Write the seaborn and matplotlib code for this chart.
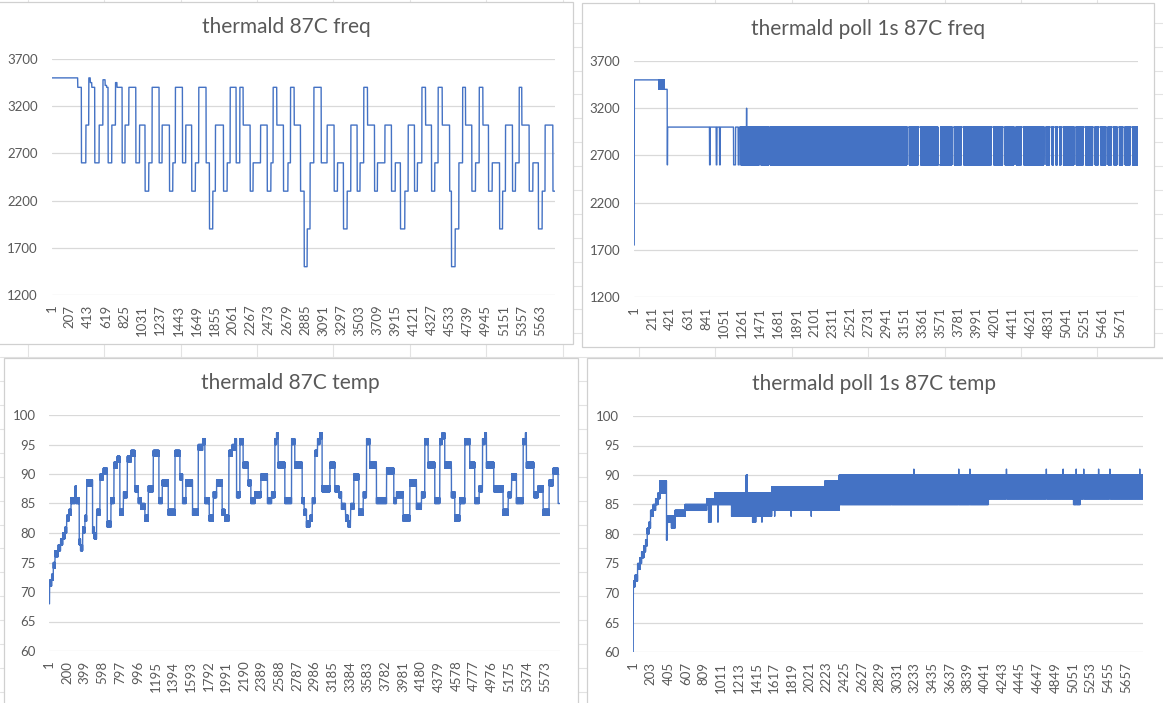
import numpy as np
import matplotlib
matplotlib.use("Agg")
import matplotlib.pyplot as plt
import seaborn as sns
from matplotlib.patches import Rectangle
from matplotlib.lines import Line2D

# ----------------------------------------------------------------
# Data (run-length encoded: start sample, low, high;
# when low != high the trace flips between the two every sample)
# ----------------------------------------------------------------
freq_n = 5731
freq_start = [0, 295, 337, 388, 421, 438, 455, 489, 539, 582, 607, 624, 641, 683, 725, 742,
              801, 834, 877, 957, 999, 1062, 1104, 1142, 1222, 1256, 1340, 1378, 1407, 1488,
              1525, 1593, 1635, 1673, 1757, 1795, 1833, 1863, 1955, 1997, 2031, 2099, 2141,
              2179, 2259, 2292, 2377, 2453, 2495, 2520, 2562, 2638, 2689, 2718, 2760, 2832,
              2874, 2908, 2941, 2984, 3068, 3135, 3215, 3253, 3321, 3363, 3405, 3477, 3510,
              3552, 3595, 3675, 3708, 3793, 3868, 3911, 3970, 4020, 4058, 4130, 4163, 4214,
              4256, 4324, 4361, 4399, 4446, 4530, 4551, 4593, 4635, 4678, 4711, 4783, 4825,
              4867, 4909, 4973, 5015, 5099, 5133, 5166, 5246, 5280, 5322, 5352, 5436, 5478,
              5541, 5584, 5617, 5706]
freq_level = [3500, 3400, 2600, 3000, 3500, 3450, 3400, 2600, 3000, 3480, 3420, 3400, 2600, 3000, 3450, 3400,
              2600, 3000, 3400, 2600, 3000, 2300, 2600, 3400, 2600, 3000, 2300, 2600, 3400, 2600,
              3000, 2300, 2600, 3400, 2600, 1900, 2300, 3000, 2300, 2600, 3400, 2600, 3400,
              3000, 2300, 2600, 3000, 2300, 2600, 3400, 3000, 2300, 2600, 3400, 3000, 2300,
              1500, 1900, 2600, 3400, 2600, 3000, 2300, 2600, 1900, 2300, 3000, 2300, 2600,
              3400, 3000, 2300, 2600, 3000, 2300, 2600, 1900, 2300, 3000, 2300, 2600, 3400,
              3000, 2300, 2600, 3400, 3000, 2300, 1500, 1900, 2600, 3400, 3000, 2300, 2600,
              3400, 3000, 2300, 2600, 1900, 2300, 3000, 2300, 2600, 3400, 3000, 2300, 2600,
              1900, 2300, 3000, 2300]

poll_freq_n = 5867
poll_freq_start = [0, 1, 291, 350, 385, 389, 878, 886, 956, 964, 995, 1003, 1158, 1181, 1212,
                   1224, 1244, 1310, 1311, 1368, 1380, 1457, 1477, 1570, 1589]
poll_freq_lo = [1750, 3500, 3400, 3400, 2600, 3000, 2600, 3000, 2600, 3000, 2600, 3000, 2600, 3000, 2600,
                3000, 2600, 3200, 2600, 3000, 2600, 3000, 2600, 3000, 2600]
poll_freq_hi = [1750, 3500, 3500, 3400, 2600, 3000, 2600, 3000, 2600, 3000, 2600, 3000, 2600, 3000, 2600,
                3000, 3000, 3200, 3000, 3000, 3000, 3000, 3000, 3000, 3000]
# short quiet stretches inside the dense 2600/3000 band
poll_gap_start = [3178, 3310, 3541, 3703, 3812, 4162, 4293, 4424, 4512, 4774, 4840, 4885,
                  4930, 4975, 5124, 5233, 5343, 5408, 5496, 5561, 5627, 5693, 5780]
poll_gap_level = [3000, 3000, 2600, 3000, 3000, 3000, 3000, 3000, 3000, 3000, 3000, 3000,
                  3000, 3000, 3000, 3000, 3000, 3000, 3000, 3000, 3000, 3000, 3000]

temp_n = 5740
temp_start = [0, 3, 26, 45, 64, 101, 127, 150, 176, 195, 221, 244, 292, 300, 337, 352, 375, 401,
              420, 487, 506, 532, 570, 607, 652, 693, 727, 764, 794, 832, 877, 918, 963, 1000,
              1030, 1075, 1113, 1169, 1233, 1270, 1338, 1413, 1469, 1499, 1536, 1611, 1675, 1724,
              1750, 1799, 1844, 1881, 1944, 1974, 2019, 2057, 2087, 2106, 2143, 2180, 2237, 2267,
              2312, 2379, 2454, 2499, 2536, 2555, 2574, 2649, 2724, 2761, 2844, 2866, 2892, 2930,
              2956, 2986, 3016, 3042, 3068, 3155, 3211, 3256, 3286, 3331, 3361, 3387, 3424, 3481,
              3529, 3567, 3604, 3679, 3792, 3874, 3904, 3979, 4054, 4129, 4185, 4222, 4260, 4335,
              4391, 4417, 4447, 4522, 4560, 4616, 4672, 4728, 4784, 4833, 4871, 4897, 4916, 4998,
              5103, 5159, 5197, 5253, 5328, 5354, 5365, 5448, 5496, 5553, 5620, 5665, 5721]
temp_lo = [68, 71, 72, 74, 76, 77, 78, 79, 80, 82, 83, 85, 86, 85, 78, 77, 80, 82,
           88, 80, 79, 83, 89, 90, 81, 85, 91, 92, 83, 86, 92, 93, 87, 85,
           84, 82, 87, 93, 85, 88, 83, 93, 89, 85, 88, 83, 94, 95,
           85, 82, 86, 88, 83, 82, 93, 94, 95, 86, 95, 91, 88, 85,
           86, 89, 85, 86, 95, 96, 91, 85, 95, 91, 85, 83, 81, 82,
           85, 93, 95, 96, 87, 91, 87, 86, 84, 82, 81, 84, 89, 83,
           86, 95, 91, 85, 90, 85, 86, 82, 88, 84, 86, 95, 91, 85,
           95, 96, 91, 86, 82, 85, 95, 91, 85, 87, 95, 96, 91, 87,
           83, 86, 89, 85, 95, 96, 91, 86, 87, 83, 88, 90, 85]
temp_hi = [68, 72, 73, 75, 77, 78, 79, 80, 81, 83, 84, 86, 88, 86, 79, 78, 81, 83,
           89, 81, 80, 84, 90, 91, 82, 86, 92, 93, 84, 87, 93, 94, 88, 86,
           85, 83, 88, 94, 86, 89, 84, 94, 90, 86, 89, 84, 95, 96,
           86, 83, 87, 89, 84, 83, 94, 95, 96, 87, 96, 92, 89, 86,
           87, 90, 86, 87, 96, 97, 92, 86, 96, 92, 86, 84, 82, 83,
           86, 94, 96, 97, 88, 92, 88, 87, 85, 83, 82, 85, 90, 84,
           87, 96, 92, 86, 91, 86, 87, 83, 89, 85, 87, 96, 92, 86,
           96, 97, 92, 87, 83, 86, 96, 92, 86, 88, 96, 97, 92, 88,
           84, 87, 90, 86, 96, 97, 92, 87, 88, 84, 89, 91, 85]

poll_temp_n = 5857
poll_temp_start = [0, 1, 19, 50, 77, 96, 123, 142, 161, 180, 199, 230, 257, 287, 306, 383, 391,
                   440, 479, 594, 843, 869, 892, 938, 1130, 1298, 1310, 1379, 1406, 1589,
                   2202, 2365, 4079, 5056, 5132]
poll_temp_lo = [60, 71, 72, 74, 75, 76, 77, 78, 80, 81, 83, 84, 85, 86, 87, 79, 82,
                81, 83, 84, 85, 82, 85, 85, 83, 87, 83, 82, 83, 84,
                84, 85, 86, 85, 86]
poll_temp_hi = [60, 72, 73, 75, 76, 77, 78, 79, 81, 82, 84, 85, 86, 87, 89, 80, 83,
                83, 84, 85, 86, 86, 86, 87, 87, 90, 87, 87, 87, 88,
                89, 90, 90, 90, 90]
# single-sample excursions outside the band
poll_temp_spike_at = [866, 973, 1371, 1478, 1624, 1813, 2044, 2387, 2708, 2828, 2965, 3222,
                      3737, 3865, 4285, 4743, 4936, 5086, 5172, 5343, 5472, 5815]
poll_temp_spike_val = [82, 82, 82, 82, 83, 83, 83, 90, 90, 90, 90, 91,
                       91, 91, 91, 91, 91, 91, 91, 91, 91, 91]

freq_ticks = list(range(1, 5564, 206))
poll_freq_ticks = list(range(1, 5672, 210))
temp_ticks = list(range(1, 5574, 199))
poll_temp_ticks = list(range(1, 5658, 202))
freq_yticks = [1200, 1700, 2200, 2700, 3200, 3700]
temp_yticks = [60, 65, 70, 75, 80, 85, 90, 95, 100]


def expand(starts, lows, highs, n):
    y = np.empty(n)
    edges = list(starts) + [n]
    for a, b, lo, hi in zip(edges[:-1], edges[1:], lows, highs):
        seg = np.full(b - a, float(lo))
        seg[1::2] = hi
        y[a:b] = seg
    return y


# build the poll-freq table from the base segments plus the quiet gaps
pf_start, pf_lo, pf_hi = list(poll_freq_start), list(poll_freq_lo), list(poll_freq_hi)
for g, lvl in zip(poll_gap_start, poll_gap_level):
    pf_start += [g, g + 30]
    pf_lo += [lvl, 2600]
    pf_hi += [lvl, 3000]

freq = expand(freq_start, freq_level, freq_level, freq_n)
poll_freq = expand(pf_start, pf_lo, pf_hi, poll_freq_n)
temp = expand(temp_start, temp_lo, temp_hi, temp_n)
poll_temp = expand(poll_temp_start, poll_temp_lo, poll_temp_hi, poll_temp_n)
poll_temp[poll_temp_spike_at] = poll_temp_spike_val

# ----------------------------------------------------------------
# Figure: four Excel-style chart boxes on a worksheet
# ----------------------------------------------------------------
sns.set_theme(style="white")
plt.rcParams['font.family'] = ['Lato', 'DejaVu Sans']

BLUE = '#4472C4'
GRID = '#D9D9D9'
TXT = '#595959'
W, H = 1163, 703

fig = plt.figure(figsize=(W / 100, H / 100), dpi=100)
fig.patch.set_facecolor('white')

# worksheet cell lines
for cx in np.arange(27.7, W, 76.4):
    fig.add_artist(Line2D([cx / W, cx / W], [0, 1], color='#E3E3E3', lw=0.8, zorder=-3))
for ry in np.arange(22.7, H, 23.9):
    fig.add_artist(Line2D([0, 1], [1 - ry / H, 1 - ry / H], color='#E3E3E3', lw=0.8, zorder=-3))


def panel(box, plot, title, title_xy, y, n, yticks, xticks):
    bx0, by0, bx1, by1 = box
    fig.add_artist(Rectangle((bx0 / W, 1 - by1 / H), (bx1 - bx0) / W, (by1 - by0) / H,
                             transform=fig.transFigure, facecolor='white',
                             edgecolor='#D0D0D0', lw=0.9, zorder=-2))
    left, top, right, bottom = plot
    ax = fig.add_axes([left / W, 1 - bottom / H, (right - left) / W, (bottom - top) / H])
    ax.patch.set_alpha(0)
    sns.lineplot(x=np.arange(1, n + 1), y=y, ax=ax, color=BLUE, linewidth=1.0,
                 estimator=None, sort=False)
    ax.set_xlim(1, n)
    ax.set_ylim(yticks[0], yticks[-1])
    ax.set_yticks(yticks)
    ax.set_yticklabels([str(t) for t in yticks])
    ax.set_xticks(xticks)
    ax.set_xticklabels([str(t) for t in xticks], rotation=90)
    ax.grid(axis='y', color=GRID, lw=0.9)
    ax.grid(axis='x', visible=False)
    ax.set_axisbelow(True)
    for s in ax.spines.values():
        s.set_visible(False)
    ax.tick_params(axis='x', length=0, labelsize=9.5, labelcolor=TXT, pad=7)
    ax.tick_params(axis='y', length=0, labelsize=9.5, labelcolor=TXT, pad=10)
    ax.set_xlabel('')
    ax.set_ylabel('')
    fig.text(title_xy[0] / W, 1 - title_xy[1] / H, title, ha='center', va='center',
             fontsize=15, color=TXT)
    return ax


panel((-2, 2, 573, 344), (51.8, 59, 555, 295), 'thermald 87C freq', (286, 27),
      freq, freq_n, freq_yticks, freq_ticks)
panel((582, 3, 1154, 347), (634.2, 61, 1137.5, 297), 'thermald poll 1s 87C freq', (868, 29),
      poll_freq, poll_freq_n, freq_yticks, poll_freq_ticks)
panel((4, 358, 578, 705), (49.3, 415, 559.7, 651), 'thermald 87C temp', (290, 383),
      temp, temp_n, temp_yticks, temp_ticks)
panel((587, 358, 1170, 705), (633.2, 416, 1143.3, 652), 'thermald poll 1s 87C temp', (874, 384),
      poll_temp, poll_temp_n, temp_yticks, poll_temp_ticks)

plt.savefig('out.png', dpi=100)
